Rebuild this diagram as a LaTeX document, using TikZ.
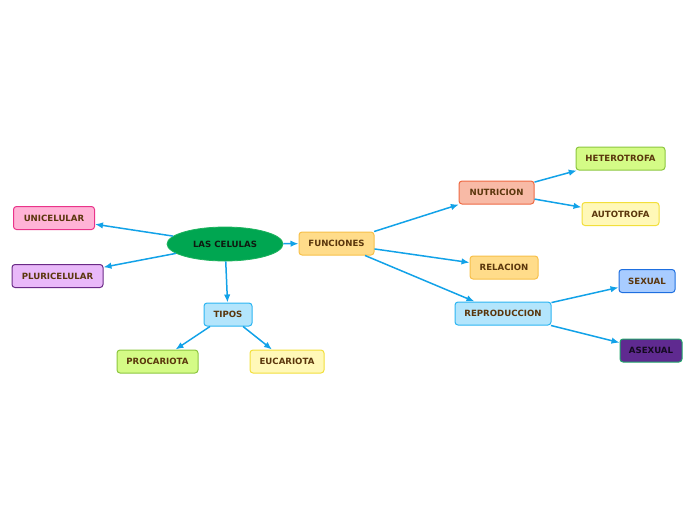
\documentclass[tikz,border=0pt]{standalone}
\usepackage{fontspec}
\setmainfont{DejaVu Sans}
\usetikzlibrary{shapes.geometric,arrows.meta}
\definecolor{conn}{HTML}{12A2E8}
\definecolor{txt}{HTML}{5A360C}
\definecolor{celfill}{HTML}{00A651}
\definecolor{celdraw}{HTML}{1DB35E}
\definecolor{celtxt}{HTML}{0E1A10}
\definecolor{orfill}{HTML}{FFDC8A}
\definecolor{ordraw}{HTML}{F7C04A}
\definecolor{pkfill}{HTML}{FFB3D6}
\definecolor{pkdraw}{HTML}{E9348A}
\definecolor{vlfill}{HTML}{E9B9F9}
\definecolor{vldraw}{HTML}{6A2A86}
\definecolor{blfill}{HTML}{B3E5FC}
\definecolor{bldraw}{HTML}{2CB5F2}
\definecolor{gnfill}{HTML}{D4FB86}
\definecolor{gndraw}{HTML}{8CC63F}
\definecolor{ylfill}{HTML}{FFF8B8}
\definecolor{yldraw}{HTML}{F2DF3B}
\definecolor{sofill}{HTML}{F8BAA6}
\definecolor{sodraw}{HTML}{EE6A43}
\definecolor{sbfill}{HTML}{A8CCFF}
\definecolor{sbdraw}{HTML}{1E6FE0}
\definecolor{pufill}{HTML}{5F2A90}
\definecolor{pudraw}{HTML}{20A56A}
\definecolor{putxt}{HTML}{140A20}
\tikzset{
  box/.style={draw, rounded corners=3pt, line width=1pt, minimum height=23pt, inner sep=0pt, text=txt, font=\fontsize{8.6}{10}\selectfont\bfseries},
  conn/.style={draw=conn, line width=1.5pt, -{Latex[length=8pt,width=6.5pt]}},
}
\begin{document}
\begin{tikzpicture}[x=1pt,y=-1pt]
\useasboundingbox (0,0) rectangle (696,520);
\node[ellipse, fill=celfill, draw=celdraw, line width=0.8pt, minimum width=116pt, minimum height=34pt, inner sep=0pt, text=celtxt, font=\fontsize{8.6}{10}\selectfont\bfseries] (cel) at (225,244) {LAS CELULAS};
\node[box, fill=orfill, draw=ordraw, minimum width=75pt] (fun) at (336.5,243.5) {FUNCIONES};
\node[box, fill=pkfill, draw=pkdraw, minimum width=81pt] (uni) at (54,218) {UNICELULAR};
\node[box, fill=vlfill, draw=vldraw, minimum width=91pt] (plu) at (57.5,276) {PLURICELULAR};
\node[box, fill=blfill, draw=bldraw, minimum width=48pt] (tip) at (228,314.5) {TIPOS};
\node[box, fill=gnfill, draw=gndraw, minimum width=81pt] (pro) at (157.5,361.5) {PROCARIOTA};
\node[box, fill=ylfill, draw=yldraw, minimum width=74pt] (euc) at (287,361.5) {EUCARIOTA};
\node[box, fill=sofill, draw=sodraw, minimum width=75pt] (nut) at (496.5,192.5) {NUTRICION};
\node[box, fill=gnfill, draw=gndraw, minimum width=89pt] (het) at (620.5,158.5) {HETEROTROFA};
\node[box, fill=ylfill, draw=yldraw, minimum width=77pt] (aut) at (620.5,214) {AUTOTROFA};
\node[box, fill=orfill, draw=ordraw, minimum width=68pt] (rel) at (504,267.5) {RELACION};
\node[box, fill=blfill, draw=bldraw, minimum width=96pt] (rep) at (503,313.5) {REPRODUCCION};
\node[box, fill=sbfill, draw=sbdraw, minimum width=56pt] (sex) at (647,281) {SEXUAL};
\node[box, fill=pufill, draw=pudraw, minimum width=62pt, text=putxt] (ase) at (651,350.5) {ASEXUAL};
\path[conn] (cel) -- (uni);
\path[conn] (cel) -- (plu);
\path[conn] (cel) -- (fun);
\path[conn] (cel) -- (tip);
\path[conn] (tip) -- (pro);
\path[conn] (tip) -- (euc);
\path[conn] (fun) -- (nut);
\path[conn] (fun) -- (rel);
\path[conn] (fun) -- (rep);
\path[conn] (nut) -- (het);
\path[conn] (nut) -- (aut);
\path[conn] (rep) -- (sex);
\path[conn] (rep) -- (ase);
\end{tikzpicture}
\end{document}
